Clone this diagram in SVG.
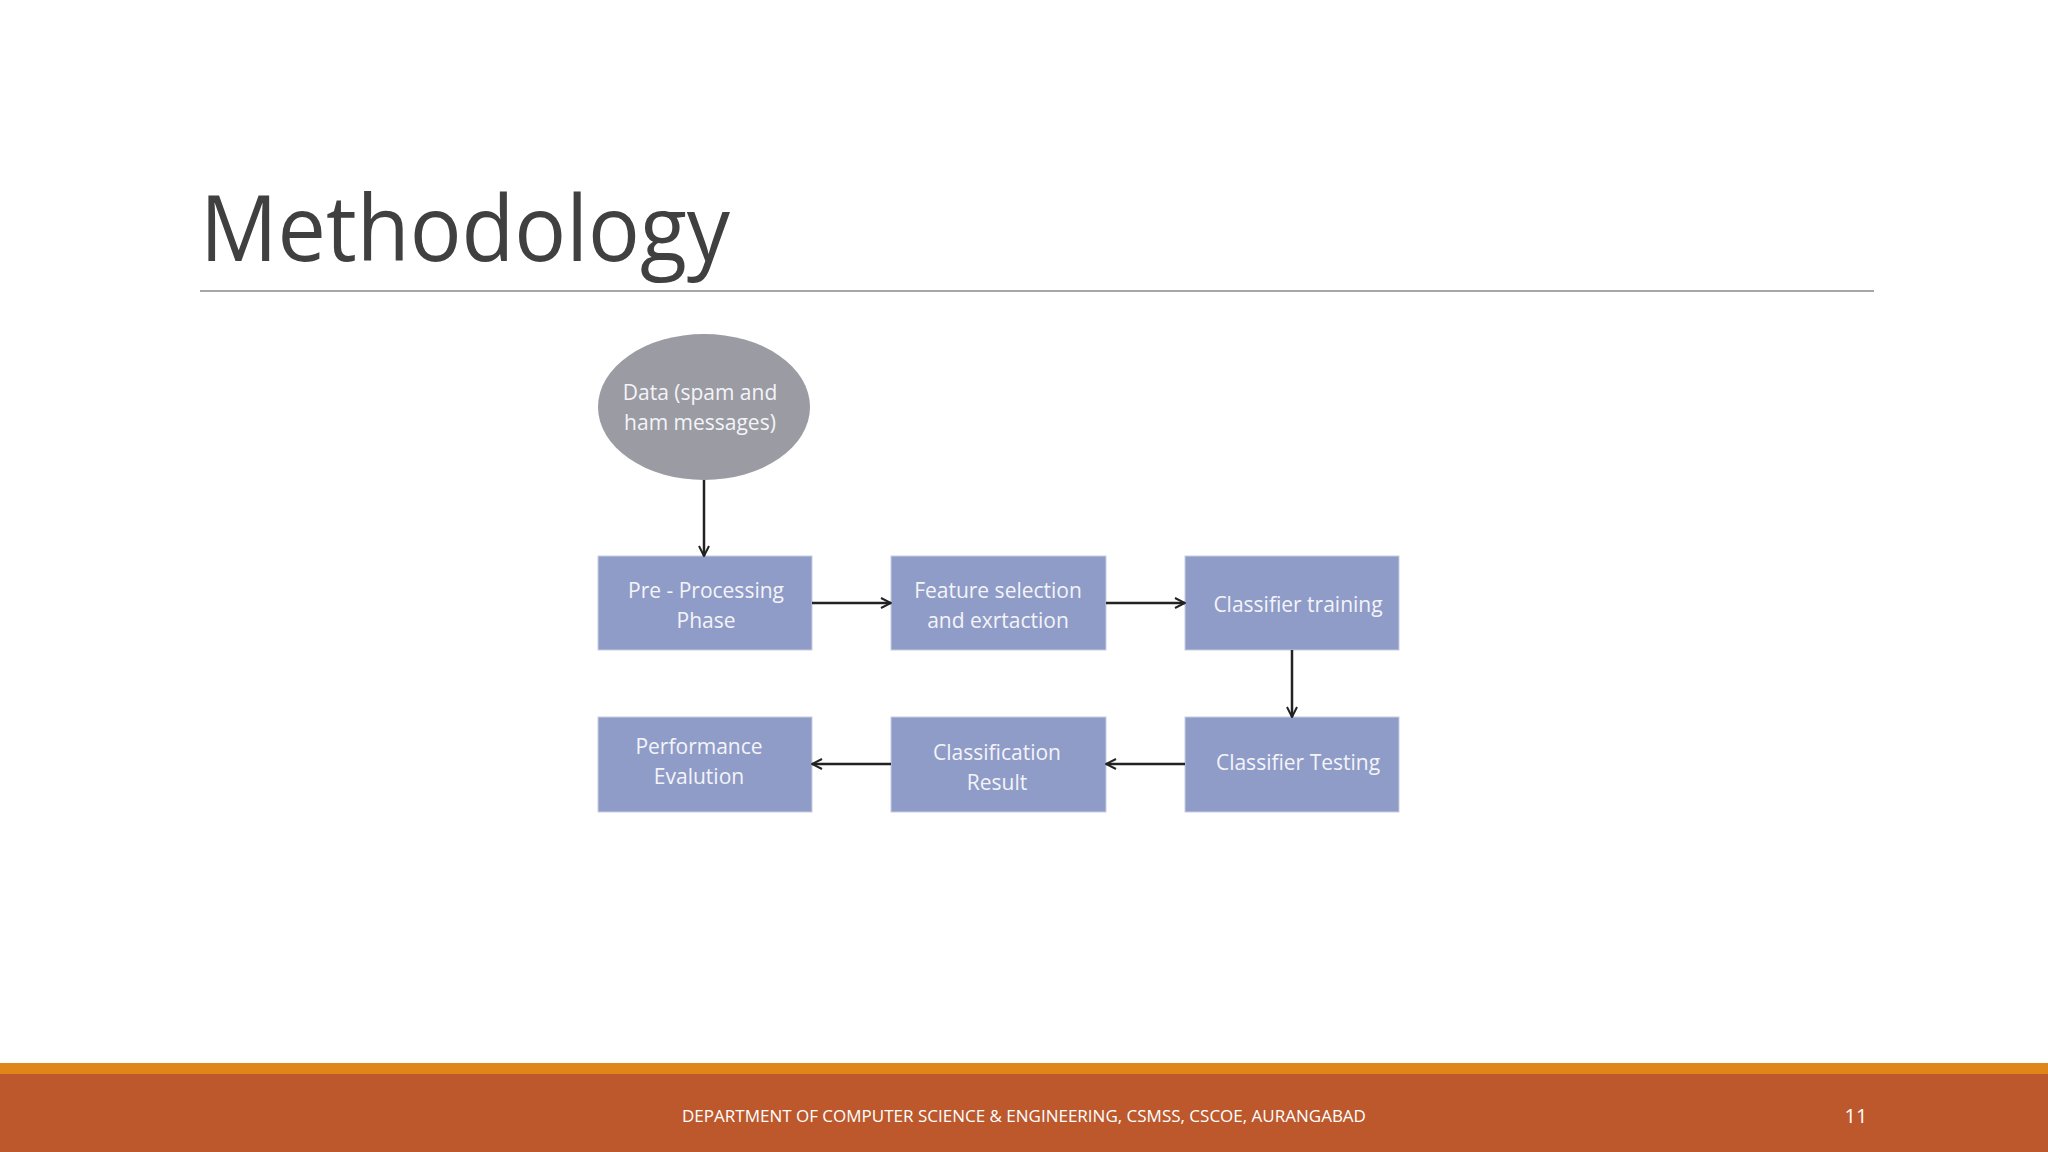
<svg xmlns="http://www.w3.org/2000/svg" width="2048" height="1152" viewBox="0 0 2048 1152">
<defs>
<marker id="ah" viewBox="0 0 12 12" refX="11" refY="6" markerWidth="12" markerHeight="12" markerUnits="userSpaceOnUse" orient="auto"><path d="M1,1 L11,6 L1,11" fill="none" stroke="#222" stroke-width="2"/></marker>
<style>
.box{fill:#8f9cc8;stroke:#c8cde0;stroke-width:1}
.t{font-family:"Open Sans","Liberation Sans",sans-serif;font-size:21px;fill:#f4f4f8;text-anchor:middle}
.c{stroke:#222;stroke-width:2.5;fill:none;marker-end:url(#ah)}
</style>
</defs>
<rect width="2048" height="1152" fill="#fff"/>
<text x="200" y="261" font-family="Open Sans,Liberation Sans,sans-serif" font-size="92" fill="#404040" textLength="530" lengthAdjust="spacingAndGlyphs">Methodology</text>
<line x1="200" y1="291" x2="1874" y2="291" stroke="#a6a6a6" stroke-width="2"/>
<g id="data"><ellipse cx="704" cy="407" rx="106" ry="73" fill="#9b9ba3"/><text class="t" x="700" y="400">Data (spam and</text><text class="t" x="700" y="430">ham messages)</text></g>
<g id="pre"><rect class="box" x="598" y="556" width="214" height="94"/><text class="t" x="706" y="598">Pre - Processing</text><text class="t" x="706" y="628">Phase</text></g>
<g id="feat"><rect class="box" x="891" y="556" width="215" height="94"/><text class="t" x="998" y="598">Feature selection</text><text class="t" x="998" y="628">and exrtaction</text></g>
<g id="train"><rect class="box" x="1185" y="556" width="214" height="94"/><text class="t" x="1298" y="612">Classifier training</text></g>
<g id="test"><rect class="box" x="1185" y="717" width="214" height="95"/><text class="t" x="1298" y="770">Classifier Testing</text></g>
<g id="result"><rect class="box" x="891" y="717" width="215" height="95"/><text class="t" x="997" y="760">Classification</text><text class="t" x="997" y="790">Result</text></g>
<g id="perf"><rect class="box" x="598" y="717" width="214" height="95"/><text class="t" x="699" y="754">Performance</text><text class="t" x="699" y="784">Evalution</text></g>
<g id="connectors">
<line class="c" x1="704" y1="480" x2="704" y2="556"/>
<line class="c" x1="812" y1="603" x2="891" y2="603"/>
<line class="c" x1="1106" y1="603" x2="1185" y2="603"/>
<line class="c" x1="1292" y1="650" x2="1292" y2="717"/>
<line class="c" x1="1185" y1="764" x2="1106" y2="764"/>
<line class="c" x1="891" y1="764" x2="812" y2="764"/>
</g>
<rect x="0" y="1063" width="2048" height="11" fill="#e0851a"/>
<rect x="0" y="1074" width="2048" height="78" fill="#bc582c"/>
<text x="1024" y="1122" font-family="Open Sans,Liberation Sans,sans-serif" font-size="17" fill="#fff" text-anchor="middle">DEPARTMENT OF COMPUTER SCIENCE &amp; ENGINEERING, CSMSS, CSCOE, AURANGABAD</text>
<text x="1856" y="1123" font-family="Open Sans,Liberation Sans,sans-serif" font-size="20" fill="#fff" text-anchor="middle">11</text>
</svg>
